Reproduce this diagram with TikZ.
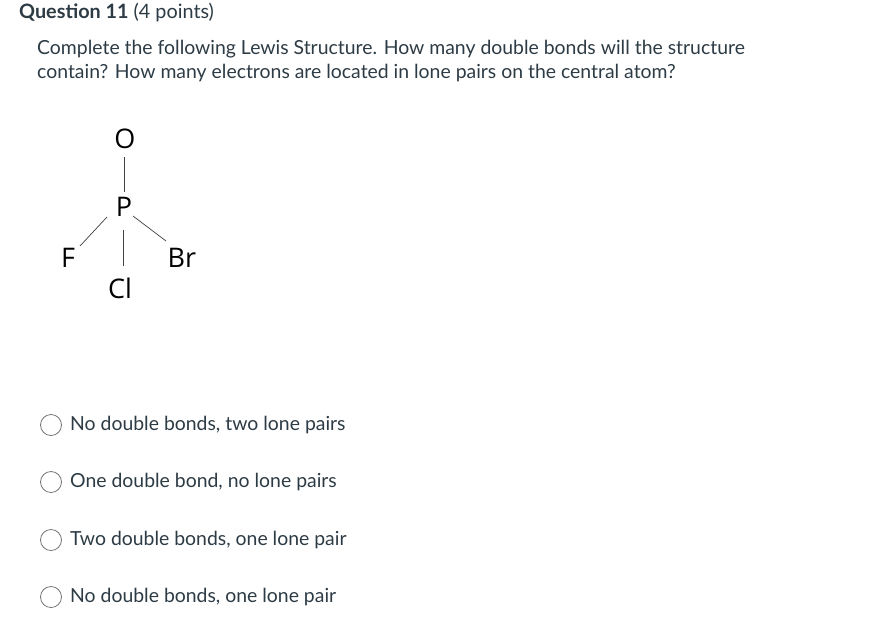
\documentclass[tikz,border=0pt]{standalone}
\usepackage{fontspec}
\setmainfont{Lato}
\newfontfamily\molfont{Open Sans}
\definecolor{txt}{HTML}{2D3B45}
\begin{document}
\begin{tikzpicture}[x=1pt,y=-1pt,
  every node/.style={inner sep=0pt,text=txt},
  body/.style={anchor=west,font=\fontsize{19.4}{23}\selectfont},
  atom/.style={font=\molfont\fontsize{27}{29}\selectfont,text=black},
  bond/.style={draw=black!75,line width=0.7pt},
  radio/.style={circle,draw=black!55,line width=0.8pt,minimum size=21pt}]
\useasboundingbox (0,0) rectangle (874,633);
\node[body,font=\fontsize{19.8}{23}\selectfont] (title) at (19,13) {\textbf{Question 11} (4 points)};
\node[body] (q1) at (37,49) {Complete the following Lewis Structure. How many double bonds will the structure};
\node[body] (q2) at (37,73) {contain? How many electrons are located in lone pairs on the central atom?};
\node[atom] (O) at (125,139) {O};
\node[atom] (P) at (124,207) {P};
\node[atom] (F) at (68,258) {F};
\node[atom] (Br) at (182,258) {Br};
\node[atom] (Cl) at (120,288) {Cl};
\draw[bond] (124,157) -- (124,192);
\draw[bond] (107,217) -- (80,246);
\draw[bond] (133,216) -- (166,241);
\draw[bond] (123,230) -- (123,266);
\foreach \y/\t/\n in {425/{No double bonds, two lone pairs}/a,482/{One double bond, no lone pairs}/b,540/{Two double bonds, one lone pair}/c,597/{No double bonds, one lone pair}/d}{
  \node[radio] (r\n) at (51,\y) {};
  \node[body] (t\n) at (70,\y) {\t};
}
\end{tikzpicture}
\end{document}
